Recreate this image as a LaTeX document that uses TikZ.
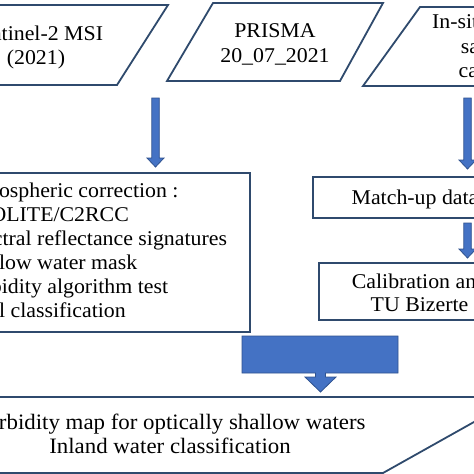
\documentclass[tikz,border=0pt]{standalone}
\usepackage{fontspec}
\setmainfont[FakeStretch=1.04]{Liberation Serif}
\usetikzlibrary{calc}
\definecolor{edgec}{HTML}{2F4A6D}
\definecolor{arrfill}{HTML}{4472C4}
\definecolor{arredge}{HTML}{2F528F}
\newcommand{\blkarrow}[2]{%
  \filldraw[arrowshape] ($(#1)+(-3.75,0)$) -- ($(#2)+(-3.75,-9)$) -- ($(#2)+(-8.5,-9)$) -- (#2) -- ($(#2)+(8.5,-9)$) -- ($(#2)+(3.75,-9)$) -- ($(#1)+(3.75,0)$) -- cycle;}
\begin{document}
\begin{tikzpicture}[x=1pt,y=-1pt,
  boxline/.style={draw=edgec, line width=1.8pt, line join=miter},
  boxnode/.style={boxline, rectangle, inner sep=0pt, outer sep=0pt},
  txt/.style={font=\fontsize{21}{24}\selectfont, inner sep=0pt, anchor=base},
  bigtxt/.style={font=\fontsize{22}{25}\selectfont, inner sep=0pt, anchor=base},
  arrowshape/.style={fill=arrfill, draw=arredge, line width=0.8pt, line join=miter}]
\useasboundingbox (0,0) rectangle (474,474);
\fill[white] (0,0) rectangle (474,474);
\clip (0,0) rectangle (474,474);

% input parallelograms
\draw[boxline] (-70,5) -- (168,5) -- (117,85) -- (-120,85) -- cycle;
\draw[boxline] (213,3) -- (383,3) -- (340,81) -- (167,81) -- cycle;
\draw[boxline] (420,7) -- (560,7) -- (500,86) -- (363,86) -- cycle;

\node[txt] (s2a) at (36,40) {Sentinel-2 MSI};
\node[txt] (s2b) at (36,64) {(2021)};
\node[txt] (pra) at (275,37) {PRISMA};
\node[txt] (prb) at (275,62) {20\_07\_2021};
\node[txt] (isa) at (501,28) {In-situ turbidity};
\node[txt] (isb) at (501,53) {sampling};
\node[txt] (isc) at (501,77) {campaign};

% process boxes
\node[boxnode, minimum width=310pt, minimum height=159pt] (proc) at (95,252.5) {};
\node[boxnode, minimum width=208pt, minimum height=41pt] (match) at (417,197.5) {};
\node[boxnode, minimum width=198pt, minimum height=57pt] (calib) at (418,291.5) {};

\node[txt, anchor=base west] (p1) at (-40,197) {Atmospheric correction :};
\node[txt, anchor=base west] (p2) at (-40,221) {ACOLITE/C2RCC};
\node[txt, anchor=base west] (p3) at (-40,245) {Spectral reflectance signatures};
\node[txt, anchor=base west] (p4) at (-40,269) {Shallow water mask};
\node[txt, anchor=base west] (p5) at (-40,293) {Turbidity algorithm test};
\node[txt, anchor=base west] (p6) at (-40,317) {Pixel classification};

\node[txt] (m1) at (415,204) {Match-up data};
\node[txt] (c1) at (419.5,288) {Calibration and};
\node[txt] (c2) at (419.5,311) {TU Bizerte};

% output shape
\draw[boxline] (-60,397) -- (518.6,397) -- (383,473) -- (-60,473) -- cycle;
\node[bigtxt] (o1) at (170,429) {Turbidity map for optically shallow waters};
\node[bigtxt] (o2) at (170,453) {Inland water classification};

% arrows
\coordinate (a1s) at (155.5,98);  \coordinate (a1e) at (155.5,167);
\coordinate (a2s) at (467.5,98);  \coordinate (a2e) at (467.5,169);
\coordinate (a3s) at (467.5,223); \coordinate (a3e) at (467.5,258);
\blkarrow{a1s}{a1e}
\blkarrow{a2s}{a2e}
\blkarrow{a3s}{a3e}

\coordinate (bigtip) at (320.5,392);
\filldraw[arrowshape] (242,336) -- (398,336) -- (398,373) -- (325.5,373) -- (325.5,377) -- (336,377) -- (bigtip) -- (305,377) -- (315.5,377) -- (315.5,373) -- (242,373) -- cycle;
\end{tikzpicture}
\end{document}
